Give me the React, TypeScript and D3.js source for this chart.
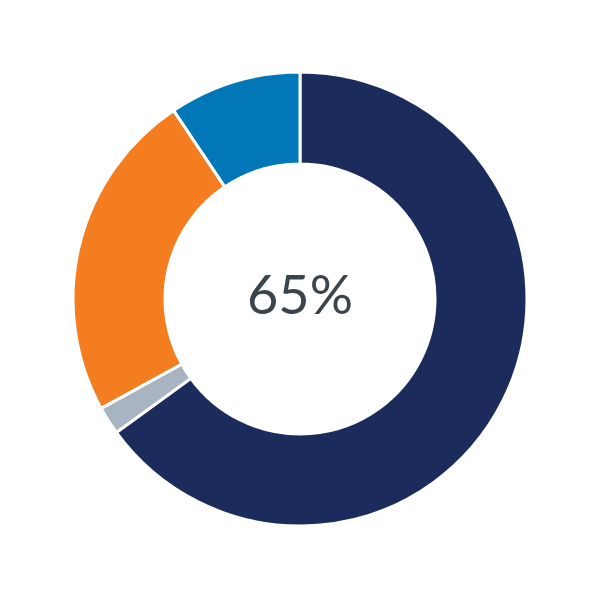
import React from "react";
import * as d3 from "d3";

const categories = ["A", "B", "C", "D"];
const values = [65, 2, 23.6, 9.4];
const colors = ["#1b2b5b", "#a9b4c2", "#f47d20", "#0177b7"];
const centerLabel = "65%";

export default function App() {
  const width = 600;
  const height = 600;
  const cx = 300;
  const cy = 299;
  const pie = d3.pie<number>().sort(null).value((d) => d);
  const arcs = pie(values);
  const arc = d3.arc<d3.PieArcDatum<number>>().innerRadius(135).outerRadius(227);
  return (
    <svg width={width} height={height} style={{ position: "absolute", left: 0, top: 0 }}>
      <rect width={width} height={height} fill="#ffffff" />
      <g transform={`translate(${cx},${cy})`}>
        {arcs.map((a, i) => (
          <path key={categories[i]} d={arc(a) || ""} fill={colors[i]} stroke="#ffffff" strokeWidth={3} />
        ))}
        <text
          x={0}
          y={-4}
          dy="0.35em"
          textAnchor="middle"
          fontFamily="Lato"
          fontWeight={400}
          fontSize={54}
          fill="#3b444b"
        >
          {centerLabel}
        </text>
      </g>
    </svg>
  );
}
